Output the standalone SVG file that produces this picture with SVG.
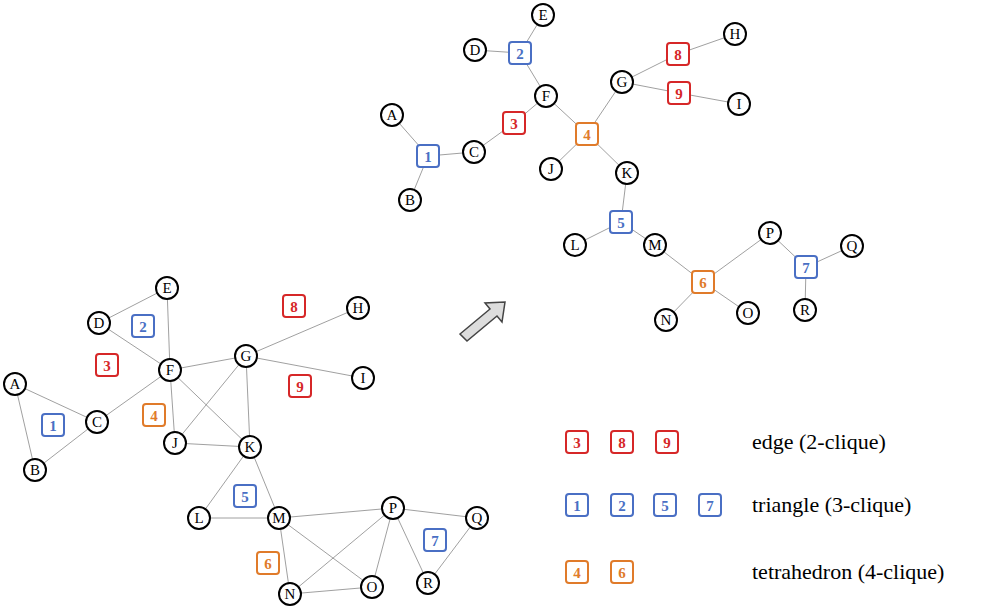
<svg xmlns="http://www.w3.org/2000/svg" width="992" height="609" viewBox="0 0 992 609">
<defs><style>
.e line{stroke:#888;stroke-width:0.8}
.n circle{fill:#fff;stroke:#000;stroke-width:2}
text{font-family:"Liberation Serif",serif;text-anchor:middle}
.n text{font-size:15px}
.b rect{fill:#fff;stroke-width:2}
.b text{font-size:15px;font-weight:bold}
.r rect{stroke:#d62728}.r text{fill:#d62728}
.u rect{stroke:#4a6fc4}.u text{fill:#4a6fc4}
.o rect{stroke:#e07b2a}.o text{fill:#e07b2a}
.lg{font-size:22px;text-anchor:start}
</style></defs>
<rect width="992" height="609" fill="#fff"/>
<g class="e" id="connectors">
<line x1="99" y1="323" x2="167" y2="288"/><line x1="99" y1="323" x2="170" y2="370"/><line x1="167" y1="288" x2="170" y2="370"/>
<line x1="170" y1="370" x2="246" y2="356"/><line x1="170" y1="370" x2="97" y2="422"/><line x1="170" y1="370" x2="175" y2="443"/><line x1="170" y1="370" x2="250" y2="447"/>
<line x1="246" y1="356" x2="358" y2="308"/><line x1="246" y1="356" x2="363" y2="378"/><line x1="246" y1="356" x2="175" y2="443"/><line x1="246" y1="356" x2="250" y2="447"/>
<line x1="15" y1="384" x2="97" y2="422"/><line x1="15" y1="384" x2="35" y2="470"/><line x1="35" y1="470" x2="97" y2="422"/>
<line x1="175" y1="443" x2="250" y2="447"/><line x1="250" y1="447" x2="199" y2="518"/><line x1="250" y1="447" x2="279" y2="518"/><line x1="199" y1="518" x2="279" y2="518"/>
<line x1="279" y1="518" x2="393" y2="508"/><line x1="279" y1="518" x2="290" y2="594"/><line x1="279" y1="518" x2="372" y2="587"/>
<line x1="393" y1="508" x2="290" y2="594"/><line x1="393" y1="508" x2="372" y2="587"/><line x1="290" y1="594" x2="372" y2="587"/>
<line x1="393" y1="508" x2="477" y2="518"/><line x1="393" y1="508" x2="428" y2="583"/><line x1="477" y1="518" x2="428" y2="583"/>
<line x1="392" y1="115" x2="428" y2="156"/><line x1="410" y1="200" x2="428" y2="156"/><line x1="428" y1="156" x2="474" y2="152"/>
<line x1="474" y1="152" x2="514" y2="123"/><line x1="514" y1="123" x2="546" y2="96"/>
<line x1="475" y1="50" x2="520" y2="53"/><line x1="543" y1="15" x2="520" y2="53"/><line x1="520" y1="53" x2="546" y2="96"/>
<line x1="546" y1="96" x2="587" y2="134"/><line x1="622" y1="82" x2="587" y2="134"/><line x1="551" y1="169" x2="587" y2="134"/><line x1="587" y1="134" x2="627" y2="173"/>
<line x1="622" y1="82" x2="678" y2="54"/><line x1="678" y1="54" x2="735" y2="34"/><line x1="622" y1="82" x2="679" y2="93"/><line x1="679" y1="93" x2="739" y2="104"/>
<line x1="627" y1="173" x2="621" y2="222"/><line x1="621" y1="222" x2="575" y2="245"/><line x1="621" y1="222" x2="655" y2="245"/>
<line x1="655" y1="245" x2="703" y2="282"/><line x1="703" y1="282" x2="770" y2="233"/><line x1="703" y1="282" x2="666" y2="320"/><line x1="703" y1="282" x2="748" y2="313"/>
<line x1="770" y1="233" x2="806" y2="267"/><line x1="806" y1="267" x2="852" y2="246"/><line x1="806" y1="267" x2="805" y2="310"/>
</g>
<g class="n">
<g id="lE"><circle cx="167" cy="288" r="11"/><text x="167" y="293">E</text></g>
<g id="lD"><circle cx="99" cy="323" r="11"/><text x="99" y="328">D</text></g>
<g id="lF"><circle cx="170" cy="370" r="11"/><text x="170" y="375">F</text></g>
<g id="lG"><circle cx="246" cy="356" r="11"/><text x="246" y="361">G</text></g>
<g id="lH"><circle cx="358" cy="308" r="11"/><text x="358" y="313">H</text></g>
<g id="lI"><circle cx="363" cy="378" r="11"/><text x="363" y="383">I</text></g>
<g id="lA"><circle cx="15" cy="384" r="11"/><text x="15" y="389">A</text></g>
<g id="lC"><circle cx="97" cy="422" r="11"/><text x="97" y="427">C</text></g>
<g id="lB"><circle cx="35" cy="470" r="11"/><text x="35" y="475">B</text></g>
<g id="lJ"><circle cx="175" cy="443" r="11"/><text x="175" y="448">J</text></g>
<g id="lK"><circle cx="250" cy="447" r="11"/><text x="250" y="452">K</text></g>
<g id="lL"><circle cx="199" cy="518" r="11"/><text x="199" y="523">L</text></g>
<g id="lM"><circle cx="279" cy="518" r="11"/><text x="279" y="523">M</text></g>
<g id="lP"><circle cx="393" cy="508" r="11"/><text x="393" y="513">P</text></g>
<g id="lQ"><circle cx="477" cy="518" r="11"/><text x="477" y="523">Q</text></g>
<g id="lN"><circle cx="290" cy="594" r="11"/><text x="290" y="599">N</text></g>
<g id="lO"><circle cx="372" cy="587" r="11"/><text x="372" y="592">O</text></g>
<g id="lR"><circle cx="428" cy="583" r="11"/><text x="428" y="588">R</text></g>
<g id="rE"><circle cx="543" cy="15" r="11"/><text x="543" y="20">E</text></g>
<g id="rD"><circle cx="475" cy="50" r="11"/><text x="475" y="55">D</text></g>
<g id="rF"><circle cx="546" cy="96" r="11"/><text x="546" y="101">F</text></g>
<g id="rA"><circle cx="392" cy="115" r="11"/><text x="392" y="120">A</text></g>
<g id="rC"><circle cx="474" cy="152" r="11"/><text x="474" y="157">C</text></g>
<g id="rB"><circle cx="410" cy="200" r="11"/><text x="410" y="205">B</text></g>
<g id="rG"><circle cx="622" cy="82" r="11"/><text x="622" y="87">G</text></g>
<g id="rH"><circle cx="735" cy="34" r="11"/><text x="735" y="39">H</text></g>
<g id="rI"><circle cx="739" cy="104" r="11"/><text x="739" y="109">I</text></g>
<g id="rJ"><circle cx="551" cy="169" r="11"/><text x="551" y="174">J</text></g>
<g id="rK"><circle cx="627" cy="173" r="11"/><text x="627" y="178">K</text></g>
<g id="rL"><circle cx="575" cy="245" r="11"/><text x="575" y="250">L</text></g>
<g id="rM"><circle cx="655" cy="245" r="11"/><text x="655" y="250">M</text></g>
<g id="rP"><circle cx="770" cy="233" r="11"/><text x="770" y="238">P</text></g>
<g id="rQ"><circle cx="852" cy="246" r="11"/><text x="852" y="251">Q</text></g>
<g id="rR"><circle cx="805" cy="310" r="11"/><text x="805" y="315">R</text></g>
<g id="rN"><circle cx="666" cy="320" r="11"/><text x="666" y="325">N</text></g>
<g id="rO"><circle cx="748" cy="313" r="11"/><text x="748" y="318">O</text></g>
</g>
<g class="b">
<g id="l2" class="u"><rect x="132" y="315" width="22" height="22" rx="3"/><text x="143" y="332">2</text></g>
<g id="l3" class="r"><rect x="96" y="354" width="22" height="22" rx="3"/><text x="107" y="371">3</text></g>
<g id="l8" class="r"><rect x="283" y="295" width="22" height="22" rx="3"/><text x="294" y="312">8</text></g>
<g id="l9" class="r"><rect x="289" y="375" width="22" height="22" rx="3"/><text x="300" y="392">9</text></g>
<g id="l1" class="u"><rect x="42" y="414" width="22" height="22" rx="3"/><text x="53" y="431">1</text></g>
<g id="l4" class="o"><rect x="143" y="404" width="22" height="22" rx="3"/><text x="154" y="421">4</text></g>
<g id="l5" class="u"><rect x="234" y="485" width="22" height="22" rx="3"/><text x="245" y="502">5</text></g>
<g id="l6" class="o"><rect x="257" y="552" width="22" height="22" rx="3"/><text x="268" y="569">6</text></g>
<g id="l7" class="u"><rect x="424" y="529" width="22" height="22" rx="3"/><text x="435" y="546">7</text></g>
<g id="r2" class="u"><rect x="509" y="42" width="22" height="22" rx="3"/><text x="520" y="59">2</text></g>
<g id="r3" class="r"><rect x="503" y="112" width="22" height="22" rx="3"/><text x="514" y="129">3</text></g>
<g id="r1" class="u"><rect x="417" y="145" width="22" height="22" rx="3"/><text x="428" y="162">1</text></g>
<g id="r4" class="o"><rect x="576" y="123" width="22" height="22" rx="3"/><text x="587" y="140">4</text></g>
<g id="r8" class="r"><rect x="667" y="43" width="22" height="22" rx="3"/><text x="678" y="60">8</text></g>
<g id="r9" class="r"><rect x="668" y="82" width="22" height="22" rx="3"/><text x="679" y="99">9</text></g>
<g id="r5" class="u"><rect x="610" y="211" width="22" height="22" rx="3"/><text x="621" y="228">5</text></g>
<g id="r6" class="o"><rect x="692" y="271" width="22" height="22" rx="3"/><text x="703" y="288">6</text></g>
<g id="r7" class="u"><rect x="795" y="256" width="22" height="22" rx="3"/><text x="806" y="273">7</text></g>
<g class="r"><rect x="566" y="431" width="22" height="22" rx="3"/><text x="577" y="448">3</text><rect x="611" y="431" width="22" height="22" rx="3"/><text x="622" y="448">8</text><rect x="656" y="431" width="22" height="22" rx="3"/><text x="667" y="448">9</text></g>
<g class="u"><rect x="566" y="494" width="22" height="22" rx="3"/><text x="577" y="511">1</text><rect x="611" y="494" width="22" height="22" rx="3"/><text x="622" y="511">2</text><rect x="654" y="494" width="22" height="22" rx="3"/><text x="665" y="511">5</text><rect x="699" y="494" width="22" height="22" rx="3"/><text x="710" y="511">7</text></g>
<g class="o"><rect x="566" y="561" width="22" height="22" rx="3"/><text x="577" y="578">4</text><rect x="611" y="561" width="22" height="22" rx="3"/><text x="622" y="578">6</text></g>
</g>
<text class="lg" x="752" y="449">edge (2-clique)</text>
<text class="lg" x="752" y="512">triangle (3-clique)</text>
<text class="lg" x="752" y="579">tetrahedron (4-clique)</text>
<g id="arrow"><polygon points="460,334 490,309 485,303 505,302 502,322 497,316 467,341" fill="#ddd" stroke="#444" stroke-width="1.5"/></g>
</svg>
